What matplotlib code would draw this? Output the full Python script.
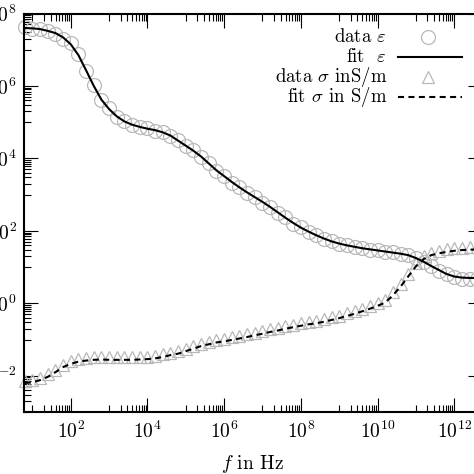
import numpy as np
import matplotlib
matplotlib.use("Agg")
import matplotlib.pyplot as plt
from matplotlib.ticker import FixedLocator, LogFormatterMathtext, NullFormatter

plt.rcParams.update({
    "font.family": "serif",
    "font.serif": ["cmr10"],
    "mathtext.fontset": "cm",
    "axes.formatter.use_mathtext": True,
})

# ---- data (log10 values) ----
log_f = [0.8, 1.0, 1.2, 1.4, 1.6, 1.8, 2.0, 2.2, 2.4, 2.6,
         2.8, 3.0, 3.2, 3.4, 3.6, 3.8, 4.0, 4.2, 4.4, 4.6,
         4.8, 5.0, 5.2, 5.4, 5.6, 5.8, 6.0, 6.2, 6.4, 6.6,
         6.8, 7.0, 7.2, 7.4, 7.6, 7.8, 8.0, 8.2, 8.4, 8.6,
         8.8, 9.0, 9.2, 9.4, 9.6, 9.8, 10.0, 10.2, 10.4, 10.6,
         10.8, 11.0, 11.2, 11.4, 11.6, 11.8, 12.0, 12.2, 12.4, 12.6]

log_eps_data = [7.62, 7.58, 7.56, 7.53, 7.44, 7.30, 7.18, 6.88, 6.40, 6.02,
                5.60, 5.38, 5.14, 5.03, 4.91, 4.88, 4.83, 4.77, 4.73, 4.61,
                4.50, 4.33, 4.23, 4.03, 3.88, 3.65, 3.52, 3.33, 3.22, 3.05,
                2.94, 2.78, 2.67, 2.50, 2.37, 2.20, 2.10, 1.97, 1.89, 1.78,
                1.72, 1.64, 1.61, 1.55, 1.53, 1.48, 1.47, 1.42, 1.41, 1.36,
                1.34, 1.25, 1.14, 1.04, 0.90, 0.80, 0.72, 0.68, 0.67, 0.68]

log_eps_fit = [7.60, 7.59, 7.57, 7.52, 7.46, 7.34, 7.15, 6.85, 6.43, 6.00,
               5.62, 5.36, 5.16, 5.02, 4.93, 4.87, 4.82, 4.78, 4.72, 4.63,
               4.49, 4.35, 4.21, 4.05, 3.86, 3.67, 3.51, 3.35, 3.20, 3.06,
               2.93, 2.80, 2.66, 2.51, 2.36, 2.22, 2.09, 1.98, 1.88, 1.79,
               1.71, 1.65, 1.60, 1.56, 1.52, 1.49, 1.46, 1.43, 1.40, 1.37,
               1.33, 1.25, 1.15, 1.03, 0.92, 0.81, 0.74, 0.71, 0.70, 0.70]

log_sigma_data = [-2.14, -2.11, -2.05, -1.95, -1.83, -1.69, -1.60, -1.54, -1.51, -1.49,
                  -1.48, -1.49, -1.49, -1.48, -1.49, -1.48, -1.47, -1.45, -1.41, -1.36,
                  -1.32, -1.25, -1.18, -1.11, -1.06, -1.01, -0.98, -0.94, -0.90, -0.86,
                  -0.81, -0.77, -0.72, -0.68, -0.63, -0.59, -0.55, -0.51, -0.48, -0.44,
                  -0.39, -0.34, -0.28, -0.22, -0.15, -0.08, 0.00, 0.10, 0.30, 0.54,
                  0.82, 1.10, 1.30, 1.40, 1.45, 1.49, 1.52, 1.54, 1.55, 1.56]

log_sigma_fit = [-2.20, -2.18, -2.12, -2.03, -1.90, -1.76, -1.67, -1.61, -1.58, -1.56,
                 -1.55, -1.56, -1.56, -1.56, -1.56, -1.55, -1.54, -1.52, -1.48, -1.43,
                 -1.39, -1.32, -1.25, -1.18, -1.13, -1.08, -1.05, -1.01, -0.97, -0.93,
                 -0.88, -0.84, -0.79, -0.75, -0.70, -0.66, -0.62, -0.58, -0.55, -0.51,
                 -0.46, -0.41, -0.35, -0.29, -0.22, -0.15, -0.07, 0.02, 0.22, 0.46,
                 0.74, 1.02, 1.22, 1.33, 1.38, 1.42, 1.45, 1.47, 1.48, 1.49]

legend_labels = [r"data $\varepsilon$", r"fit  $\varepsilon$",
                 r"data $\sigma$ inS/m", r"fit $\sigma$ in S/m"]
xlabel = r"$f$ in Hz"

f = 10.0 ** np.array(log_f)
eps_data = 10.0 ** np.array(log_eps_data)
eps_fit = 10.0 ** np.array(log_eps_fit)
sig_data = 10.0 ** np.array(log_sigma_data)
sig_fit = 10.0 ** np.array(log_sigma_fit)

# ---- figure ----
W = H = 474
fig = plt.figure(figsize=(W / 100, H / 100), dpi=100)
left, right, top, bottom = 24, 482, 13.5, 412
ax = fig.add_axes([left / W, 1 - bottom / H, (right - left) / W, (bottom - top) / H])

gray = "#b8b8b8"
ax.plot(f, eps_data, linestyle="none", marker="o", markersize=10, mfc="none",
        mec=gray, mew=0.9, clip_on=False, zorder=2)
ax.plot(f, sig_data, linestyle="none", marker="^", markersize=9, mfc="none",
        mec=gray, mew=0.9, clip_on=False, zorder=2)
ax.plot(f, eps_fit, color="black", lw=1.5, zorder=3)
ax.plot(f, sig_fit, color="black", lw=1.5, linestyle=(0, (2.9, 2.1)), zorder=3)

ax.set_xscale("log")
ax.set_yscale("log")
ax.set_xlim(10 ** 0.78, 10 ** 12.725)
ax.set_ylim(1e-3, 1e8)

xmaj = [10.0 ** e for e in range(0, 15, 2)]
ymaj = [10.0 ** e for e in range(-2, 9, 2)]
xmin_t = [k * 10.0 ** e for e in range(-1, 14, 2) for k in range(1, 10)]
ymin_t = [k * 10.0 ** e for e in range(-3, 9, 2) for k in range(1, 10)]
ax.xaxis.set_major_locator(FixedLocator(xmaj))
ax.yaxis.set_major_locator(FixedLocator(ymaj))
ax.xaxis.set_minor_locator(FixedLocator(xmin_t))
ax.yaxis.set_minor_locator(FixedLocator(ymin_t))
ax.xaxis.set_major_formatter(LogFormatterMathtext())
ax.yaxis.set_major_formatter(LogFormatterMathtext())
ax.xaxis.set_minor_formatter(NullFormatter())
ax.yaxis.set_minor_formatter(NullFormatter())

ax.tick_params(which="both", direction="in", top=True, right=True, width=0.8,
               labelsize=14)
ax.tick_params(which="major", length=10)
ax.tick_params(which="minor", length=5)
ax.tick_params(axis="x", which="major", pad=6)
ax.tick_params(axis="y", which="major", pad=5)
for s in ax.spines.values():
    s.set_linewidth(1.5)

ax.set_xlabel(xlabel, fontsize=14, labelpad=8)

# ---- legend (gnuplot style: right-aligned text, sample at right) ----
def ax_x(px):
    return (px - left) / (right - left)

def ax_y(py):
    return (bottom - py) / (bottom - top)

rows = [37, 57, 77, 97]
tx = ax_x(387)
for i, lab in enumerate(legend_labels):
    y = ax_y(rows[i])
    ax.text(tx, y, lab, transform=ax.transAxes, ha="right", va="center", fontsize=13.5)
ax.plot([ax_x(428)], [ax_y(rows[0])], transform=ax.transAxes, marker="o",
        markersize=10, mfc="none", mec=gray, mew=0.9, linestyle="none")
ax.plot([ax_x(398), ax_x(462)], [ax_y(rows[1])] * 2, transform=ax.transAxes,
        color="black", lw=1.5)
ax.plot([ax_x(428)], [ax_y(rows[2])], transform=ax.transAxes, marker="^",
        markersize=9, mfc="none", mec=gray, mew=0.9, linestyle="none")
ax.plot([ax_x(398), ax_x(462)], [ax_y(rows[3])] * 2, transform=ax.transAxes,
        color="black", lw=1.5, linestyle=(0, (2.9, 2.1)))

fig.savefig("out.png", dpi=100)
